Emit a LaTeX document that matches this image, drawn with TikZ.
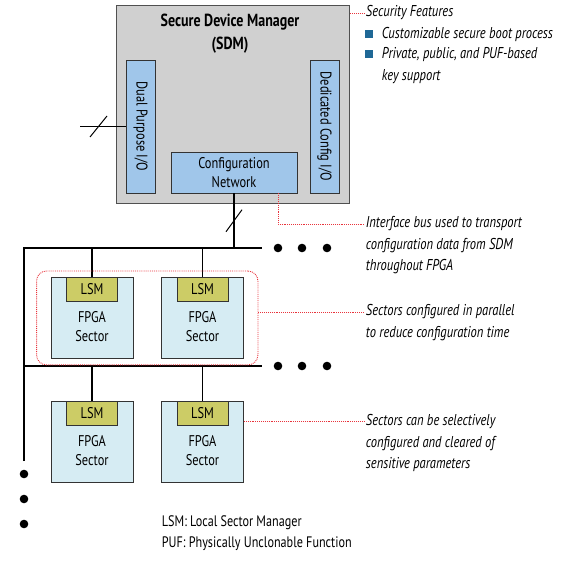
\documentclass[tikz,border=0pt]{standalone}
\usepackage{fontspec}
\setmainfont[FakeStretch=0.8]{PT Sans}
\usepackage{tikz}
\usetikzlibrary{calc}
\usetikzlibrary{fit}
\definecolor{sdmgray}{RGB}{208,208,208}
\definecolor{sdmedge}{RGB}{80,80,80}
\definecolor{ioblue}{RGB}{160,198,234}
\definecolor{sectorblue}{RGB}{214,236,243}
\definecolor{lsmolive}{RGB}{204,204,102}
\definecolor{bulletblue}{RGB}{31,104,150}
\definecolor{calloutred}{RGB}{232,52,60}

\begin{document}
\begin{tikzpicture}[x=1pt,y=1pt,yscale=-1,xscale=1,
  txt/.style={inner sep=0.75pt, font=\fontsize{15.5}{19}\selectfont},
  note/.style={inner sep=0.75pt, align=left, font=\itshape\fontsize{15.7}{21.5}\selectfont},
  iobox/.style={draw=black!80, fill=ioblue, line width=0.9, inner sep=0},
  sectorbox/.style={draw=black!80, fill=sectorblue, line width=0.9, minimum width=82, minimum height=81, inner sep=0},
  lsmbox/.style={draw=black!80, fill=lsmolive, line width=0.9, minimum width=51, minimum height=24, inner sep=0, font=\fontsize{15.5}{16}\selectfont},
  bus/.style={line width=1.3},
  callout/.style={draw=calloutred, densely dotted, line width=0.9}]
\useasboundingbox (0,0) rectangle (563,567);
%Shape: Rectangle [SDM]
\node[draw=sdmedge, fill=sdmgray, line width=1.2, minimum width=233, minimum height=198, inner sep=0, anchor=north west] (sdm) at (116,5) {};
% Text Node
\node[txt, align=center, font=\bfseries\fontsize{17.5}{23}\selectfont] (sdmtitle) at (230,33.5) {Secure Device Manager\\(SDM)};
%Shape: Rectangle [Dual Purpose I/O]
\node[iobox, minimum width=29, minimum height=133] (dpio) at (140.5,126.5) {};
\node[txt, rotate=-90] (dpiotext) at (dpio.center) {Dual Purpose I/O};
%Shape: Rectangle [Dedicated Config I/O]
\node[iobox, minimum width=29, minimum height=133] (dcio) at (324.5,126.5) {};
\node[txt, rotate=-90] (dciotext) at (dcio.center) {Dedicated Config I/O};
%Shape: Rectangle [Configuration Network]
\node[iobox, txt, inner sep=0, minimum width=126, minimum height=41, align=center] (cfgnet) at (234,172.5) {Configuration\\Network};

%Straight Lines [dual purpose pins]
\coordinate (dpin) at (80,126.5);
\draw[bus] (dpin) -- (dpio.west);
\draw[line width=1] ($(dpin)+(18.5,0)$) +(-8.5,10.5) -- +(8.5,-10.5);

%Straight Lines [buses]
\coordinate (busw1) at (24,248);
\coordinate (buse1) at (262,248);
\coordinate (busw2) at (24,366);
\coordinate (buse2) at (262,366);
\coordinate (trunkend) at (24,461);
\draw[bus] (trunkend) -- (busw1) -- (buse1);
\draw[bus] (busw2) -- (buse2);
\draw[bus] (cfgnet.south) -- (cfgnet.south |- busw1);
\draw[line width=1] ($(cfgnet.south)!0.5!(cfgnet.south |- busw1)$) +(-8,11) -- +(8,-11);
\foreach \x in {278,302,327} {
  \fill (\x,248) circle (4.3);
  \fill (\x,366) circle (4.3);
}
\foreach \y in {474,499,524}
  \fill (24,\y) circle (4.3);

%Sectors
\foreach \row/\ytop in {1/277, 2/401} {
  \foreach \col/\x in {1/92, 2/202.5} {
    \node[sectorbox, anchor=north] (sec\row\col) at (\x,\ytop) {};
    \node[lsmbox, anchor=north] (lsm\row\col) at (sec\row\col.north) {LSM};
    \node[txt, align=center] (fpga\row\col) at ($(sec\row\col.north)+(0,50)$) {FPGA\\Sector};
    \draw[bus] (lsm\row\col.north) -- (lsm\row\col.north |- busw\row);
  }
}

%Callouts
% Text Node
\node[note, anchor=west] (secfeat) at (365,13) {Security Features};
\draw[callout] (sdm.east |- secfeat.west) -- (secfeat.west);
\node[fill=bulletblue, minimum size=8, inner sep=0] (sq1) at (369,34.5) {};
\node[note, anchor=west] (bul1) at (381,34.5) {Customizable secure boot process};
\node[fill=bulletblue, minimum size=8, inner sep=0] (sq2) at (369,54.5) {};
\node[note, anchor=west] (bul2) at (381,65.5) {Private, public, and PUF-based\\key support};
% Text Node
\node[note, anchor=west] (ifnote) at (365,245.5) {Interface bus used to transport\\configuration data from SDM\\throughout FPGA};
\coordinate (ifin) at (364,224);
\draw[callout] ([xshift=44]cfgnet.south) |- (ifin);
% Text Node
\node[callout, rounded corners=10, fit=(sec11)(sec12), inner xsep=14, inner ysep=6] (grp) {};
\node[note, anchor=west] (parnote) at (365,322.5) {Sectors configured in parallel\\to reduce configuration time};
\coordinate (parin) at (364,312);
\draw[callout] (grp.east |- parin) -- (parin);
% Text Node
\node[note, anchor=west] (selnote) at (365,443) {Sectors can be selectively\\configured and cleared of\\sensitive parameters};
\coordinate (selin) at (364,421);
\draw[callout] (sec22.east |- selin) -- (selin);
% Text Node
\node[txt, align=left, anchor=west, font=\fontsize{15.2}{21}\selectfont] (legend) at (161,533.5) {LSM: Local Sector Manager\\PUF: Physically Unclonable Function};
\end{tikzpicture}
\end{document}
